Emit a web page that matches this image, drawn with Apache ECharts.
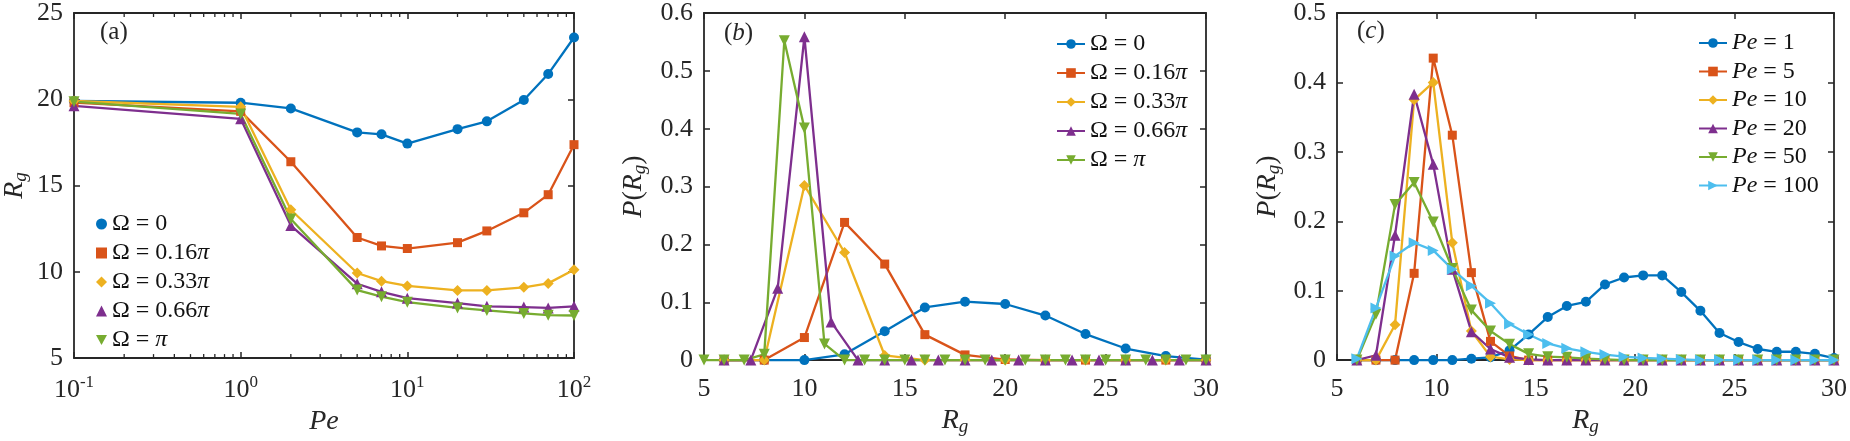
<!DOCTYPE html>
<html><head><meta charset="utf-8">
<script src="https://cdn.jsdelivr.net/npm/echarts@6/dist/echarts.min.js"></script>
<style>html,body{margin:0;padding:0;background:#fff}#c{width:1850px;height:441px}</style>
</head><body><div id="c"></div>
<script>
const FONT = 'Liberation Serif';
const INK = '#262626';
const COLORS = ['#0072BD', '#D95319', '#EDB120', '#7E2F8E', '#77AC30', '#4DBEEE'];

// ---------- Panel (a): R_g vs Pe ----------
const peValues   = [0.1, 1, 2, 5, 7, 10, 20, 30, 50, 70, 100];
const rgOmega0   = [19.9, 19.8, 19.47, 18.08, 17.97, 17.43, 18.27, 18.72, 19.96, 21.46, 23.58];
const rgOmega016 = [19.8, 19.3, 16.38, 11.99, 11.5, 11.35, 11.69, 12.37, 13.42, 14.47, 17.37];
const rgOmega033 = [19.9, 19.56, 13.6, 9.93, 9.46, 9.18, 8.92, 8.92, 9.1, 9.33, 10.12];
const rgOmega066 = [19.62, 18.87, 12.68, 9.31, 8.84, 8.47, 8.19, 8.0, 7.96, 7.91, 8.0];
const rgOmegaPi  = [19.86, 19.15, 13.06, 8.94, 8.56, 8.24, 7.91, 7.76, 7.59, 7.49, 7.47];
const logMinorTicksA = [0.2, 0.3, 0.4, 0.5, 0.6, 0.7, 0.8, 0.9, 2, 3, 4, 5, 6, 7, 8, 9, 20, 30, 40, 50, 60, 70, 80, 90];

// ---------- Panel (b): P(R_g) for several Omega ----------
const rgStep2   = [6, 8, 10, 12, 14, 16, 18, 20, 22, 24, 26, 28, 30];
const pOmega0   = [0, 0, 0, 0.010, 0.050, 0.091, 0.101, 0.097, 0.077, 0.045, 0.020, 0.007, 0.001];
const pOmega016 = [0, 0, 0.039, 0.238, 0.166, 0.044, 0.009, 0.001, 0, 0, 0, 0, 0];
const pOmega033 = [0, 0, 0.302, 0.186, 0.008, 0, 0, 0, 0, 0, 0, 0, 0];
const rgStep133 = [6, 7.33, 8.67, 10, 11.33, 12.67, 14, 15.33, 16.67, 18, 19.33, 20.67, 22, 23.33, 24.67, 26, 27.33, 28.67, 30];
const pOmega066 = [0, 0, 0.124, 0.559, 0.066, 0, 0, 0, 0, 0, 0, 0, 0, 0, 0, 0, 0, 0, 0];
const rgStep1   = [5, 6, 7, 8, 9, 10, 11, 12, 13, 14, 15, 16, 17, 18, 19, 20, 21, 22, 23, 24, 25, 26, 27, 28, 29, 30];
const pOmegaPi  = [0, 0, 0, 0.010, 0.552, 0.401, 0.028, 0, 0, 0, 0, 0, 0, 0, 0, 0, 0, 0, 0, 0, 0, 0, 0, 0, 0, 0];

// ---------- Panel (c): P(R_g) for several Pe ----------
const rgBinsC = [6, 6.96, 7.92, 8.88, 9.84, 10.8, 11.76, 12.72, 13.68, 14.64, 15.6, 16.56, 17.52, 18.48, 19.44, 20.4, 21.36, 22.32, 23.28, 24.24, 25.2, 26.16, 27.12, 28.08, 29.04, 30];
const pPe1   = [0, 0, 0, 0, 0, 0, 0.002, 0.004, 0.014, 0.037, 0.062, 0.078, 0.084, 0.109, 0.119, 0.122, 0.122, 0.098, 0.071, 0.039, 0.026, 0.016, 0.012, 0.012, 0.009, 0.003];
const pPe5   = [0, 0, 0, 0.125, 0.435, 0.324, 0.126, 0.027, 0.006, 0, 0, 0, 0, 0, 0, 0, 0, 0, 0, 0, 0, 0, 0, 0, 0, 0];
const pPe10  = [0, 0, 0.051, 0.375, 0.400, 0.169, 0.042, 0.005, 0.001, 0, 0, 0, 0, 0, 0, 0, 0, 0, 0, 0, 0, 0, 0, 0, 0, 0];
const pPe20  = [0, 0.007, 0.180, 0.383, 0.282, 0.131, 0.041, 0.016, 0.004, 0.001, 0, 0, 0, 0, 0, 0, 0, 0, 0, 0, 0, 0, 0, 0, 0, 0];
const pPe50  = [0, 0.066, 0.224, 0.256, 0.199, 0.132, 0.072, 0.042, 0.023, 0.009, 0.005, 0.004, 0.002, 0.001, 0, 0, 0, 0, 0, 0, 0, 0, 0, 0, 0, 0];
const pPe100 = [0.002, 0.075, 0.150, 0.169, 0.158, 0.131, 0.107, 0.082, 0.052, 0.037, 0.024, 0.017, 0.012, 0.008, 0.005, 0.003, 0.002, 0.001, 0, 0, 0, 0, 0, 0, 0, 0];

// ---------- Labels ----------
const legendLabels = {
  a0: 'Ω = 0', a1: 'Ω = 0.16{i|π}', a2: 'Ω = 0.33{i|π}', a3: 'Ω = 0.66{i|π}', a4: 'Ω = {i|π}',
  b0: 'Ω = 0', b1: 'Ω = 0.16{i|π}', b2: 'Ω = 0.33{i|π}', b3: 'Ω = 0.66{i|π}', b4: 'Ω = {i|π}',
  c0: '{i|Pe} = 1', c1: '{i|Pe} = 5', c2: '{i|Pe} = 10', c3: '{i|Pe} = 20', c4: '{i|Pe} = 50', c5: '{i|Pe} = 100'
};

const SYMBOLS = [
  { symbol: 'circle', rot: 0, size: 10 },
  { symbol: 'rect', rot: 0, size: 9 },
  { symbol: 'diamond', rot: 0, size: 11 },
  { symbol: 'triangle', rot: 0, size: 11 },
  { symbol: 'triangle', rot: 180, size: 11 },
  { symbol: 'triangle', rot: -90, size: 11 }
];

const zip = (xs, ys) => xs.map((x, i) => [x, ys[i]]);

function lineSeries(name, idx, xs, ys, axisIdx) {
  const s = SYMBOLS[idx];
  return {
    name, type: 'line', xAxisIndex: axisIdx, yAxisIndex: axisIdx,
    data: zip(xs, ys), clip: false, animation: false,
    symbol: s.symbol, symbolRotate: s.rot, symbolSize: s.size, showAllSymbol: true,
    lineStyle: { color: COLORS[idx], width: 2.3 },
    itemStyle: { color: COLORS[idx], borderWidth: 0 },
    z: 3
  };
}

const tickText = { fontFamily: FONT, fontSize: 26, color: INK };
const nameRich = {
  i: { fontFamily: FONT, fontStyle: 'italic', fontSize: 28, color: INK, lineHeight: 30 },
  n: { fontFamily: FONT, fontSize: 28, color: INK, lineHeight: 30 },
  s: { fontFamily: FONT, fontStyle: 'italic', fontSize: 19, color: INK, lineHeight: 18, verticalAlign: 'bottom' }
};

function axisBase(extra) {
  return Object.assign({
    axisLine: { show: true, onZero: false, lineStyle: { color: INK, width: 1.8 } },
    axisTick: { show: true, inside: true, length: 6, lineStyle: { color: INK, width: 1.5 } },
    splitLine: { show: false },
    minorTick: { show: false }
  }, extra);
}

function xPair(grid, cfg) {
  const bottom = axisBase(Object.assign({
    gridIndex: grid, position: 'bottom',
    axisLabel: Object.assign({ margin: 16 }, tickText, cfg.label || {}),
    name: cfg.name, nameLocation: 'middle', nameGap: cfg.nameGap,
    nameTextStyle: { rich: nameRich }
  }, cfg.scale));
  const top = axisBase(Object.assign({
    gridIndex: grid, position: 'top', axisLabel: { show: false }
  }, cfg.scale));
  return [bottom, top];
}
function yPair(grid, cfg) {
  const left = axisBase(Object.assign({
    gridIndex: grid, position: 'left',
    axisLabel: Object.assign({ margin: 11 }, tickText),
    name: cfg.name, nameLocation: 'middle', nameGap: cfg.nameGap,
    nameTextStyle: { rich: nameRich }
  }, cfg.scale));
  const right = axisBase(Object.assign({
    gridIndex: grid, position: 'right', axisLabel: { show: false }
  }, cfg.scale));
  return [left, right];
}

const logLabel = {
  formatter: v => '{b|10}{s|' + Math.round(Math.log10(v)) + '}',
  rich: {
    b: { fontFamily: FONT, fontSize: 26, color: INK, lineHeight: 32 },
    s: { fontFamily: FONT, fontSize: 17, color: INK, lineHeight: 17, verticalAlign: 'top' }
  }
};

const xAxes = [].concat(
  xPair(0, { scale: { type: 'log', logBase: 10, min: 0.1, max: 100 }, label: logLabel, name: '{i|Pe}', nameGap: 46 }),
  xPair(1, { scale: { type: 'value', min: 5, max: 30, interval: 5 }, name: '{i|R}{s|g}', nameGap: 43 }),
  xPair(2, { scale: { type: 'value', min: 5, max: 30, interval: 5 }, name: '{i|R}{s|g}', nameGap: 43 })
);
const yAxes = [].concat(
  yPair(0, { scale: { type: 'value', min: 5, max: 25, interval: 5 }, name: '{i|R}{s|g}', nameGap: 44 }),
  yPair(1, { scale: { type: 'value', min: 0, max: 0.6, interval: 0.1 }, name: '{i|P}{n|(}{i|R}{s|g}{n|)}', nameGap: 55 }),
  yPair(2, { scale: { type: 'value', min: 0, max: 0.5, interval: 0.1 }, name: '{i|P}{n|(}{i|R}{s|g}{n|)}', nameGap: 54 })
);

const legendRich = {
  i: { fontFamily: FONT, fontStyle: 'italic', fontSize: 24, color: '#111' }
};
const legendText = { fontFamily: FONT, fontSize: 24, color: '#111', lineHeight: 22, rich: legendRich };
const fmt = n => legendLabels[n];

const option = {
  animation: false,
  backgroundColor: '#fff',
  grid: [
    { left: 73, top: 10, width: 501, height: 354 },
    { left: 704, top: 9, width: 502, height: 355 },
    { left: 1337, top: 8, width: 500, height: 355 }
  ],
  xAxis: xAxes,
  yAxis: yAxes,
  title: [
    { text: '(a)', left: 100, top: 20, padding: 0, textStyle: { fontFamily: FONT, fontSize: 25, fontWeight: 'normal', color: INK } },
    { text: '({i|b})', left: 724, top: 21, padding: 0, textStyle: { fontFamily: FONT, fontSize: 25, fontWeight: 'normal', color: INK, rich: { i: { fontFamily: FONT, fontSize: 25, fontStyle: 'italic', color: INK } } } },
    { text: '({i|c})', left: 1357, top: 19, padding: 0, textStyle: { fontFamily: FONT, fontSize: 25, fontWeight: 'normal', color: INK, rich: { i: { fontFamily: FONT, fontSize: 25, fontStyle: 'italic', color: INK } } } }
  ],
  legend: [
    {
      left: 96, top: 212, orient: 'vertical', itemWidth: 11, itemHeight: 11, itemGap: 5, padding: 0,
      data: [
        { name: 'a0', icon: 'circle' }, { name: 'a1', icon: 'rect' }, { name: 'a2', icon: 'diamond' },
        { name: 'a3', icon: 'triangle' }, { name: 'a4', icon: 'path://M0,0L10,0L5,9Z' }
      ],
      formatter: fmt, textStyle: Object.assign({}, legendText, { lineHeight: 22 })
    },
    {
      left: 1056, top: 32, orient: 'vertical', itemWidth: 28, itemHeight: 12, itemGap: 5, padding: 0,
      data: ['b0', 'b1', 'b2', 'b3', 'b4'], formatter: fmt, textStyle: legendText
    },
    {
      left: 1698, top: 31, orient: 'vertical', itemWidth: 28, itemHeight: 12, itemGap: 4.5, padding: 0,
      data: ['c0', 'c1', 'c2', 'c3', 'c4', 'c5'], formatter: fmt, textStyle: legendText
    }
  ],
  series: [
    lineSeries('a0', 0, peValues, rgOmega0, 0),
    lineSeries('a1', 1, peValues, rgOmega016, 0),
    lineSeries('a2', 2, peValues, rgOmega033, 0),
    lineSeries('a3', 3, peValues, rgOmega066, 0),
    lineSeries('a4', 4, peValues, rgOmegaPi, 0),
    {
      type: 'custom', xAxisIndex: 0, yAxisIndex: 0, silent: true, clip: false,
      data: logMinorTicksA.map(v => [v, 5]),
      renderItem: (params, api) => {
        const x = api.value(0);
        const b = api.coord([x, 5]);
        const t = api.coord([x, 25]);
        const st = { stroke: INK, lineWidth: 1.3 };
        return {
          type: 'group', children: [
            { type: 'line', shape: { x1: b[0], y1: b[1], x2: b[0], y2: b[1] - 4 }, style: st },
            { type: 'line', shape: { x1: t[0], y1: t[1], x2: t[0], y2: t[1] + 4 }, style: st }
          ]
        };
      }
    },
    lineSeries('b0', 0, rgStep2, pOmega0, 2),
    lineSeries('b1', 1, rgStep2, pOmega016, 2),
    lineSeries('b2', 2, rgStep2, pOmega033, 2),
    lineSeries('b3', 3, rgStep133, pOmega066, 2),
    lineSeries('b4', 4, rgStep1, pOmegaPi, 2),
    lineSeries('c0', 0, rgBinsC, pPe1, 4),
    lineSeries('c1', 1, rgBinsC, pPe5, 4),
    lineSeries('c2', 2, rgBinsC, pPe10, 4),
    lineSeries('c3', 3, rgBinsC, pPe20, 4),
    lineSeries('c4', 4, rgBinsC, pPe50, 4),
    lineSeries('c5', 5, rgBinsC, pPe100, 4)
  ]
};

const chart = echarts.init(document.getElementById('c'), null, { renderer: 'canvas' });
chart.setOption(option);
</script>
</body></html>
